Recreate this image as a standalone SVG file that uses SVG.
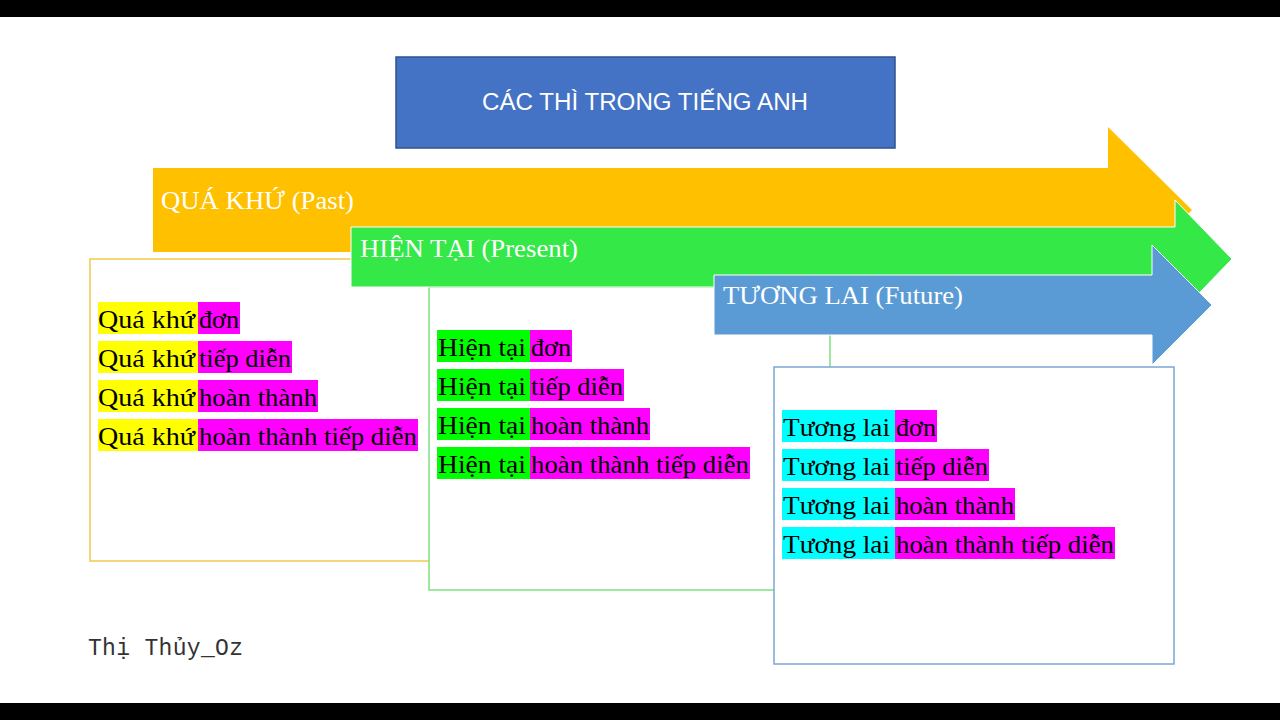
<svg xmlns="http://www.w3.org/2000/svg" width="1280" height="720" viewBox="0 0 1280 720">
<style>
.t{font-family:"Liberation Serif",serif;font-size:25px;fill:#000}
.a{font-family:"Liberation Serif",serif;font-size:25px;fill:#fff}
.y{fill:#ffff00}.m{fill:#ff00ff}.g{fill:#00ff00}.c{fill:#00ffff}
</style>
<rect width="1280" height="720" fill="#fff"/>
<rect width="1280" height="17" fill="#000"/>
<rect y="703" width="1280" height="17" fill="#000"/>
<g id="title"><rect x="396" y="57" width="499" height="91" fill="#4472c4" stroke="#2f528f" stroke-width="1.5"/>
<text x="645" y="110" text-anchor="middle" font-family="Liberation Sans,sans-serif" font-size="23" fill="#fff" textLength="326" lengthAdjust="spacingAndGlyphs">CÁC THÌ TRONG TIẾNG ANH</text></g>
<g id="past-box"><rect x="90" y="259" width="340" height="302" fill="#fff" stroke="#f2c94c" stroke-width="1.5"/></g>
<g id="past-arrow"><polygon points="153,168 1108,168 1108,127 1192,210 1108,293 1108,252 153,252" fill="#ffc000"/>
<text class="a" x="161" y="209" textLength="193" lengthAdjust="spacingAndGlyphs">QUÁ KHỨ (Past)</text></g>
<g id="present-box"><rect x="429" y="287" width="401" height="303" fill="#fff" stroke="#7fe07f" stroke-width="1.5"/></g>
<g id="present-arrow"><polygon points="351,227 1175,227 1175,200 1232,259 1175,318 1175,287 351,287" fill="#33e847" stroke="#fff" stroke-width="1"/>
<text class="a" x="360" y="257" textLength="218" lengthAdjust="spacingAndGlyphs">HIỆN TẠI (Present)</text></g>
<g id="future-arrow"><polygon points="714,275 1152,275 1152,245 1212,305 1152,365 1152,335 714,335" fill="#5b9bd5" stroke="#fff" stroke-width="1"/>
<text class="a" x="723" y="304" textLength="240" lengthAdjust="spacingAndGlyphs">TƯƠNG LAI (Future)</text></g>
<g id="future-box"><rect x="774" y="367" width="400" height="297" fill="#fff" stroke="#7aa6d6" stroke-width="1.5"/></g>
<g id="connectors"></g>
<g id="past-list">
<rect class="y" x="98" y="302" width="100" height="32"/><rect class="m" x="198" y="302" width="42" height="32"/>
<rect class="y" x="98" y="341" width="100" height="32"/><rect class="m" x="198" y="341" width="94" height="32"/>
<rect class="y" x="98" y="380" width="100" height="32"/><rect class="m" x="198" y="380" width="120" height="32"/>
<rect class="y" x="98" y="419" width="100" height="32"/><rect class="m" x="198" y="419" width="220" height="32"/>
<text class="t" x="98" y="328" textLength="97" lengthAdjust="spacingAndGlyphs">Quá khứ</text><text class="t" x="199" y="328" textLength="40" lengthAdjust="spacingAndGlyphs">đơn</text>
<text class="t" x="98" y="367" textLength="97" lengthAdjust="spacingAndGlyphs">Quá khứ</text><text class="t" x="199" y="367" textLength="92" lengthAdjust="spacingAndGlyphs">tiếp diễn</text>
<text class="t" x="98" y="406" textLength="97" lengthAdjust="spacingAndGlyphs">Quá khứ</text><text class="t" x="199" y="406" textLength="118" lengthAdjust="spacingAndGlyphs">hoàn thành</text>
<text class="t" x="98" y="445" textLength="97" lengthAdjust="spacingAndGlyphs">Quá khứ</text><text class="t" x="199" y="445" textLength="218" lengthAdjust="spacingAndGlyphs">hoàn thành tiếp diễn</text></g>
<g id="present-list">
<rect class="g" x="437" y="330" width="93" height="32"/><rect class="m" x="530" y="330" width="42" height="32"/>
<rect class="g" x="437" y="369" width="93" height="32"/><rect class="m" x="530" y="369" width="94" height="32"/>
<rect class="g" x="437" y="408" width="93" height="32"/><rect class="m" x="530" y="408" width="120" height="32"/>
<rect class="g" x="437" y="447" width="93" height="32"/><rect class="m" x="530" y="447" width="220" height="32"/>
<text class="t" x="438" y="356" textLength="88" lengthAdjust="spacingAndGlyphs">Hiện tại</text><text class="t" x="531" y="356" textLength="40" lengthAdjust="spacingAndGlyphs">đơn</text>
<text class="t" x="438" y="395" textLength="88" lengthAdjust="spacingAndGlyphs">Hiện tại</text><text class="t" x="531" y="395" textLength="92" lengthAdjust="spacingAndGlyphs">tiếp diễn</text>
<text class="t" x="438" y="434" textLength="88" lengthAdjust="spacingAndGlyphs">Hiện tại</text><text class="t" x="531" y="434" textLength="118" lengthAdjust="spacingAndGlyphs">hoàn thành</text>
<text class="t" x="438" y="473" textLength="88" lengthAdjust="spacingAndGlyphs">Hiện tại</text><text class="t" x="531" y="473" textLength="218" lengthAdjust="spacingAndGlyphs">hoàn thành tiếp diễn</text></g>
<g id="future-list">
<rect class="c" x="782" y="410" width="113" height="32"/><rect class="m" x="895" y="410" width="42" height="32"/>
<rect class="c" x="782" y="449" width="113" height="32"/><rect class="m" x="895" y="449" width="94" height="32"/>
<rect class="c" x="782" y="488" width="113" height="32"/><rect class="m" x="895" y="488" width="120" height="32"/>
<rect class="c" x="782" y="527" width="113" height="32"/><rect class="m" x="895" y="527" width="220" height="32"/>
<text class="t" x="783" y="436" textLength="107" lengthAdjust="spacingAndGlyphs">Tương lai</text><text class="t" x="896" y="436" textLength="40" lengthAdjust="spacingAndGlyphs">đơn</text>
<text class="t" x="783" y="475" textLength="107" lengthAdjust="spacingAndGlyphs">Tương lai</text><text class="t" x="896" y="475" textLength="92" lengthAdjust="spacingAndGlyphs">tiếp diễn</text>
<text class="t" x="783" y="514" textLength="107" lengthAdjust="spacingAndGlyphs">Tương lai</text><text class="t" x="896" y="514" textLength="118" lengthAdjust="spacingAndGlyphs">hoàn thành</text>
<text class="t" x="783" y="553" textLength="107" lengthAdjust="spacingAndGlyphs">Tương lai</text><text class="t" x="896" y="553" textLength="218" lengthAdjust="spacingAndGlyphs">hoàn thành tiếp diễn</text></g>
<text x="88" y="655" font-family="Liberation Mono,monospace" font-size="23" fill="#333" textLength="155">Thị Thủy_Oz</text>
</svg>
